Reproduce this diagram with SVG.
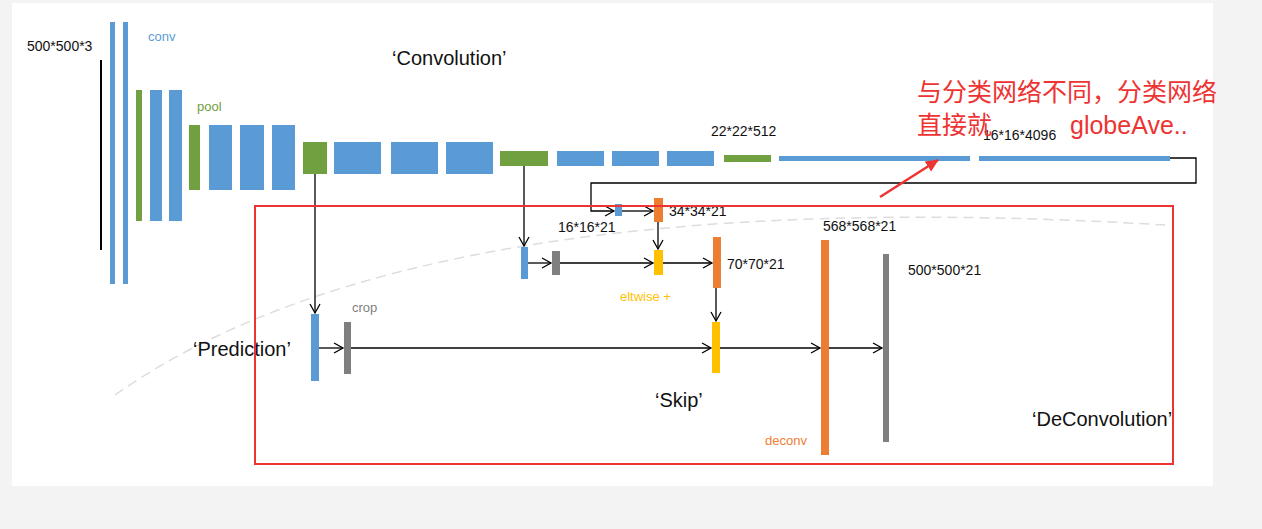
<svg xmlns="http://www.w3.org/2000/svg" width="1262" height="529" viewBox="0 0 1262 529">
<defs>
<style>
.b{fill:#5b9bd5}.g{fill:#70a040}.o{fill:#ed7d31}.y{fill:#ffc000}.k{fill:#7f7f7f}
.c{stroke:#000;stroke-width:1.3;fill:none}
.t{font-family:"Liberation Sans",Arial,sans-serif;font-size:14px;fill:#111}
.q{font-family:"Liberation Sans",Arial,sans-serif;font-size:20px;fill:#111}
</style>
<marker id="a" markerWidth="12" markerHeight="12" refX="10" refY="6" orient="auto" markerUnits="userSpaceOnUse"><path d="M1,1 L10,6 L1,11" fill="none" stroke="#000" stroke-width="1.3"/></marker>
<marker id="r" markerWidth="14" markerHeight="14" refX="12" refY="7" orient="auto" markerUnits="userSpaceOnUse"><path d="M0,1 L13,7 L0,13 Z" fill="#ee3333"/></marker>
</defs>
<rect width="1262" height="529" fill="#f3f3f3"/>
<rect x="12" y="3" width="1201" height="483" fill="#fff"/>
<path d="M115,395 Q420,180 1165,225" fill="none" stroke="#ddd" stroke-width="1.5" stroke-dasharray="10,6"/>
<g id="input"><rect x="100" y="60" width="2" height="190" fill="#000"/><text class="t" x="27" y="51">500*500*3</text></g>
<g id="conv1"><rect class="b" x="110" y="22" width="5" height="262"/><rect class="b" x="123" y="22" width="5" height="262"/><text x="148" y="41" font-family="Liberation Sans,Arial,sans-serif" font-size="13" fill="#5b9bd5">conv</text></g>
<g id="stage2"><rect class="g" x="136" y="90" width="6" height="131"/><rect class="b" x="150" y="90" width="12" height="131"/><rect class="b" x="169" y="90" width="13" height="131"/></g>
<g id="stage3"><rect class="g" x="189" y="125" width="11" height="65"/><rect class="b" x="209" y="125" width="23" height="65"/><rect class="b" x="240" y="125" width="24" height="65"/><rect class="b" x="272" y="125" width="23" height="65"/><text x="197" y="111" font-family="Liberation Sans,Arial,sans-serif" font-size="13" fill="#70a040">pool</text></g>
<g id="stage4"><rect class="g" x="303" y="142" width="24" height="32"/><rect class="b" x="334" y="142" width="47" height="32"/><rect class="b" x="391" y="142" width="47" height="32"/><rect class="b" x="446" y="142" width="47" height="32"/></g>
<g id="stage5"><rect class="g" x="500" y="151" width="48" height="15"/><rect class="b" x="557" y="151" width="47" height="15"/><rect class="b" x="612" y="151" width="47" height="15"/><rect class="b" x="667" y="151" width="47" height="15"/></g>
<g id="fc"><rect class="g" x="724" y="155" width="47" height="7"/><rect class="b" x="779" y="156" width="191" height="5"/><rect class="b" x="979" y="156" width="191" height="5"/><text class="t" x="711" y="136">22*22*512</text><text class="t" x="983" y="140">16*16*4096</text></g>
<text class="q" x="392" y="65">‘Convolution’</text>
<g id="score16"><rect class="b" x="615" y="204" width="7" height="12"/><text class="t" x="558" y="232">16*16*21</text></g>
<g id="up34"><rect class="o" x="654" y="198" width="9" height="24"/><text class="t" x="669" y="216">34*34*21</text></g>
<g id="pool4score"><rect class="b" x="521" y="247" width="7" height="32"/><rect class="k" x="552" y="251" width="8" height="24"/></g>
<g id="elt1"><rect class="y" x="654" y="250" width="9" height="25"/><text x="620" y="301" font-family="Liberation Sans,Arial,sans-serif" font-size="13" fill="#ffc000">eltwise +</text></g>
<g id="up70"><rect class="o" x="713" y="237" width="8" height="51"/><text class="t" x="727" y="269">70*70*21</text></g>
<g id="elt2"><rect class="y" x="712" y="322" width="8" height="51"/></g>
<g id="pool3score"><rect class="b" x="311" y="314" width="8" height="67"/><rect class="k" x="344" y="322" width="7" height="52"/><text x="352" y="312" font-family="Liberation Sans,Arial,sans-serif" font-size="13" fill="#7f7f7f">crop</text></g>
<g id="deconv"><rect class="o" x="821" y="240" width="8" height="215"/><text class="t" x="823" y="231">568*568*21</text><text x="765" y="445" font-family="Liberation Sans,Arial,sans-serif" font-size="13" fill="#ed7d31">deconv</text></g>
<g id="out"><rect class="k" x="883" y="254" width="6" height="188"/><text class="t" x="908" y="275">500*500*21</text></g>
<text class="q" x="193" y="356">‘Prediction’</text>
<text class="q" x="655" y="407">‘Skip’</text>
<text class="q" x="1032" y="426">‘DeConvolution’</text>
<g id="connectors">
<path class="c" d="M1170,158 H1196 V183 H591 V211 H614" marker-end="url(#a)"/>
<path class="c" d="M622,211 H653" marker-end="url(#a)"/>
<path class="c" d="M658,222 V249" marker-end="url(#a)"/>
<path class="c" d="M524,166 V246" marker-end="url(#a)"/>
<path class="c" d="M528,263 H551" marker-end="url(#a)"/>
<path class="c" d="M560,263 H653" marker-end="url(#a)"/>
<path class="c" d="M663,263 H712" marker-end="url(#a)"/>
<path class="c" d="M716,288 V321" marker-end="url(#a)"/>
<path class="c" d="M315,174 V313" marker-end="url(#a)"/>
<path class="c" d="M319,348 H343" marker-end="url(#a)"/>
<path class="c" d="M351,348 H711" marker-end="url(#a)"/>
<path class="c" d="M720,348 H820" marker-end="url(#a)"/>
<path class="c" d="M829,348 H882" marker-end="url(#a)"/>
<path d="M880,197 L938,160" stroke="#ee3333" stroke-width="2.5" marker-end="url(#r)"/>
</g>
<rect x="255" y="206" width="918" height="258" fill="none" stroke="#ee3333" stroke-width="2"/>
<g font-family="Liberation Sans,'Noto Sans CJK SC',sans-serif" font-size="25" fill="#ee3333">
<text x="917" y="101">与分类网络不同，分类网络</text>
<text x="917" y="134">直接就</text>
<text x="1070" y="134">globeAve..</text>
</g>
</svg>
